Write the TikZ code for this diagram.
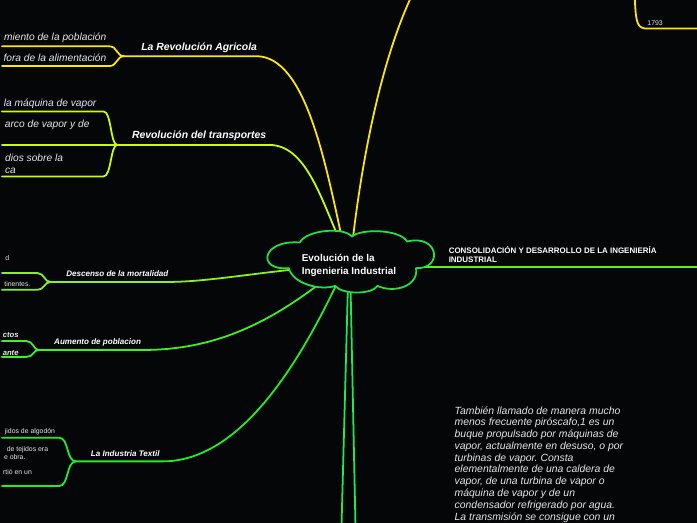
\documentclass[tikz,border=0pt]{standalone}
\usepackage{fontspec}
\setmainfont{Liberation Sans}
\frenchspacing
\pgfdeclarelayer{back}
\pgfdeclarelayer{bg}
\pgfsetlayers{back,bg,main}
\definecolor{bgc}{HTML}{050608}
\definecolor{ylw}{HTML}{FFE800}
\definecolor{chart}{HTML}{C8FF00}
\definecolor{lime}{HTML}{8CF01E}
\definecolor{grn}{HTML}{40F020}
\definecolor{grn2}{HTML}{22EE22}
\definecolor{cons}{HTML}{5EF01E}
\definecolor{cloudc}{HTML}{22E044}
\definecolor{btm}{HTML}{20E850}
\definecolor{leaftxt}{HTML}{E6E6E6}
\tikzset{
  conn/.style={line width=1.8bp, line cap=round},
  bigLabel/.style={text=white, font=\bfseries\itshape\fontsize{10.6}{12}\selectfont, inner sep=0},
  smallLabel/.style={text=white, font=\bfseries\itshape\fontsize{8.2}{9}\selectfont, inner sep=0},
  leafText/.style={text=leaftxt, font=\itshape\fontsize{10.4}{12}\selectfont, inner sep=0},
  tinyText/.style={text=leaftxt, font=\fontsize{7}{7.7}\selectfont, inner sep=0},
  tinyBold/.style={text=leaftxt, font=\bfseries\itshape\fontsize{7.8}{9}\selectfont, inner sep=0},
}
\begin{document}
\begin{tikzpicture}[x=1bp,y=-1bp]
\begin{pgfonlayer}{back}
\fill[bgc] (-5,-5) rectangle (702,525);
\end{pgfonlayer}
\useasboundingbox (0,0) rectangle (697,520);

% central cloud outline
\draw[cloudc, line width=1.8bp, fill=bgc, line join=round]
  (299,241) .. controls (306,228) and (344,225) .. (352,235)
            .. controls (360,227) and (400,227) .. (408,240)
            .. controls (440,232) and (445,268) .. (417,267)
            .. controls (420,285) and (395,293) .. (378,285)
            .. controls (372,294) and (342,294) .. (335,285)
            .. controls (320,290) and (292,283) .. (288,267)
            .. controls (255,270) and (260,238) .. (299,241) -- cycle;
\node[text=white, align=left, inner sep=0, font=\bfseries\fontsize{10.1}{13}\selectfont]
      (center) at (349,264) {Evolución de la\\Ingenieria Industrial};

% coordinates
\coordinate (agrR) at (255,52);
\coordinate (agrF) at (121,52);
\coordinate (agrL1) at (-3,42);
\coordinate (agrL2) at (-3,62);
\coordinate (trR) at (268,142);
\coordinate (trF) at (114,142);
\coordinate (trL1) at (-3,108);
\coordinate (trL2) at (-3,142);
\coordinate (trL3) at (-3,174);
\coordinate (topEnd) at (412,-8);
\coordinate (trA) at (639,-5);
\coordinate (trB) at (702,24);
\coordinate (deR) at (165,281);
\coordinate (deF) at (46,281);
\coordinate (deL1) at (-3,272);
\coordinate (deL2) at (-3,289);
\coordinate (auR) at (140,350);
\coordinate (auF) at (34,350);
\coordinate (auL1) at (-3,341);
\coordinate (auL2) at (-3,357);
\coordinate (txR) at (160,463);
\coordinate (txF) at (72,463);
\coordinate (txL1) at (-3,439);
\coordinate (txL2) at (-3,488);
\coordinate (coR) at (702,266);
\coordinate (btL) at (341.5,525);
\coordinate (btR) at (355.5,525);

\begin{pgfonlayer}{bg}
% La Revolucion Agricola
\draw[conn, ylw] (center) -- (343,242) .. controls (325,160) and (305,52) .. (agrR) -- (agrF);
\draw[conn, ylw] (agrF) .. controls (113,52) and (114,42) .. (106,42) -- (agrL1);
\draw[conn, ylw] (agrF) .. controls (113,52) and (114,62) .. (106,62) -- (agrL2);
% Revolucion del transportes
\draw[conn, chart] (center) -- (341,242) .. controls (320,195) and (305,142) .. (trR) -- (trF);
\draw[conn, chart] (trF) .. controls (107,142) and (108,108) .. (100,108) -- (trL1);
\draw[conn, chart] (trF) -- (trL2);
\draw[conn, chart] (trF) .. controls (107,142) and (108,174) .. (100,174) -- (trL3);
% long top branch
\draw[conn, ylw] (center) -- (352,245) .. controls (364,140) and (385,50) .. (topEnd);
% Descenso
\draw[conn, lime] (center) -- (296,268) .. controls (240,274) and (200,281) .. (deR) -- (deF);
\draw[conn, lime] (deF) .. controls (40,281) and (40,272) .. (33,272) -- (deL1);
\draw[conn, lime] (deF) .. controls (40,281) and (40,289) .. (33,289) -- (deL2);
% Aumento
\draw[conn, grn] (center) -- (324,279) .. controls (265,325) and (210,350) .. (auR) -- (auF);
\draw[conn, grn] (auF) .. controls (29,350) and (29,341) .. (22,341) -- (auL1);
\draw[conn, grn] (auF) .. controls (29,350) and (29,357) .. (22,357) -- (auL2);
% Textil
\draw[conn, grn2] (center) -- (338,280) .. controls (300,360) and (240,463) .. (txR) -- (txF);
\draw[conn, grn2] (txF) .. controls (62,463) and (65,439) .. (55,439) -- (txL1);
\draw[conn, grn2] (txF) .. controls (62,463) and (65,488) .. (55,488) -- (txL2);
% Consolidacion
\draw[conn, cons] (center |- coR) -- (coR);
% bottom
\draw[conn, btm] (center) -- (348,282) -- (btL);
\draw[conn, btm] (center) -- (350.5,282) -- (btR);
\end{pgfonlayer}

% top right fragment
\draw[conn, ylw] (trA) .. controls (640,20) and (642,24) .. (652,24) -- (trB);
\node[tinyText] (t1793) at (659.5,18) {1793};

% labels
\node[bigLabel] (agri) at (197,43) {La Revolución Agricola};
\node[bigLabel] (trans) at (197,132.5) {Revolución del transportes};
\node[smallLabel] (desc) at (114,272.5) {Descenso de la mortalidad};
\node[smallLabel] (aum) at (94,342.5) {Aumento de poblacion};
\node[smallLabel] (tex) at (122,455.5) {La Industria Textil};
\node[text=white, font=\bfseries\fontsize{8.1}{9.3}\selectfont, align=left, inner sep=0, anchor=west]
  (consol) at (450,253.5) {CONSOLIDACIÓN Y DESARROLLO DE LA INGENIERÍA\\INDUSTRIAL};

% leaf texts
\node[leafText, anchor=east] (a1) at (103,33) {miento de la población};
\node[leafText, anchor=east] (a2) at (103,54) {fora de la alimentación};
\node[leafText, anchor=east] (b1) at (93,100.5) {la máquina de vapor};
\node[leafText, anchor=east] (b2) at (86,121.5) {arco de vapor y de};
\node[leafText, anchor=west, align=left] (b3) at (0,161) {dios sobre la\\ca};
\node[tinyText] (d1) at (2.5,257) {d};
\node[tinyText, anchor=east] (d2) at (26,283) {tinentes.};
\node[tinyBold, anchor=east] (e1) at (14,335) {ctos};
\node[tinyBold, anchor=east] (e2) at (14,353) {ante};
\node[tinyText, anchor=east] (f1) at (51,433) {jidos de algodón};
\node[tinyText, anchor=east] (f2) at (44,451) {de tejidos era};
\node[tinyText, anchor=east] (f3) at (21,458.5) {e obra.};
\node[tinyText, anchor=east] (f4) at (27.5,474) {rtió en un};

% paragraph
\node[text=leaftxt, font=\itshape\fontsize{10.6}{12}\selectfont, align=left, inner sep=0, anchor=north west]
 (para) at (456,407) {También llamado de manera mucho\\menos frecuente piróscafo,1 es un\\buque propulsado por máquinas de\\vapor, actualmente en desuso, o por\\turbinas de vapor. Consta\\elementalmente de una caldera de\\vapor, de una turbina de vapor o\\máquina de vapor y de un\\condensador refrigerado por agua.\\La transmisión se consigue con un};
\end{tikzpicture}
\end{document}
